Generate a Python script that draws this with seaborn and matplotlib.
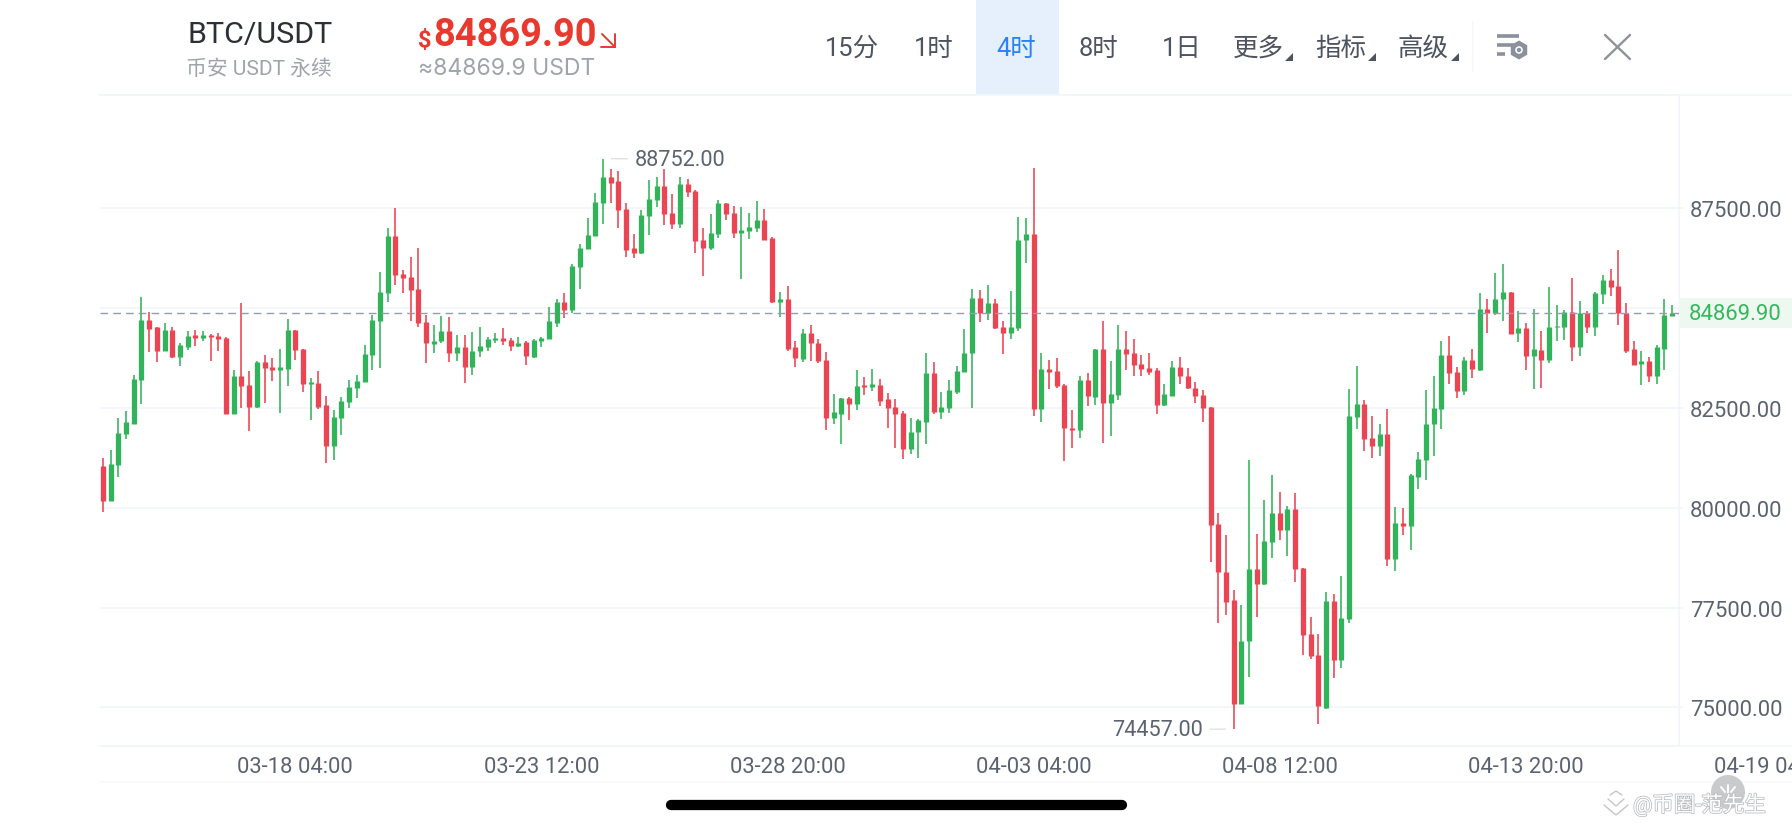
import pandas as pd
import seaborn as sns
import matplotlib.pyplot as plt
import matplotlib.patheffects as pe
from matplotlib.patches import Rectangle, Circle, Polygon, RegularPolygon

# 4h candles, oldest first
opens = [81050, 80170, 81070, 81850, 82110, 83200, 84710, 84520, 83930, 84450, 83780, 84030, 84320, 84250, 84330, 84310, 84260,
         82360, 83290, 83070, 82520, 83650, 83540, 83460, 83490, 84450, 83980, 83100, 83130, 82570, 81560, 82260, 82660, 83000,
         83140, 83830, 84690, 85380, 86820, 85860, 85780, 85480, 84650, 84110, 84170, 84430, 83880, 84020, 83520, 83920, 84030,
         84200, 84250, 84210, 84060, 84160, 83780, 84180, 84220, 84640, 85160, 84950, 86040, 86490, 86820, 87630, 88300, 88180,
         87480, 86500, 86380, 87310, 87720, 88070, 87380, 87110, 88120, 87930, 86700, 86510, 86860, 87650, 87380, 86890, 86930,
         87020, 87200, 86770, 85160, 85220, 84030, 83740, 84390, 84140, 83710, 82250, 82360, 82740, 82590, 83070, 83020, 83080,
         82720, 82520, 82370, 81470, 81890, 82160, 83380, 82410, 82500, 82900, 83400, 83870, 85260, 84890, 85130, 84530, 84370,
         84510, 86700, 86870, 82480, 83470, 83430, 83070, 82010, 81960, 83200, 82780, 83980, 82620, 82820, 83980, 83880, 83600,
         83500, 83440, 82570, 82810, 83520, 83310, 83000, 82820, 82520, 79590, 78400, 77680, 75070, 76660, 78460, 78080, 79130,
         79880, 79440, 79960, 78480, 76840, 76310, 74990, 77660, 76190, 77210, 82280, 82600, 81740, 81550, 81850, 78720, 79630,
         79550, 80780, 81200, 82090, 82470, 83820, 83390, 82930, 83700, 83460, 84990, 84870, 85230, 85400, 84370, 84500, 83810,
         83960, 83700, 84520, 84530, 84910, 84040, 84880, 84540, 85350, 85710, 85560, 84880, 83970, 83600, 83670, 83310, 83990,
         84800]
closes = [80170, 81100, 81870, 82140, 83230, 84710, 84490, 83930, 84450, 83780, 84070, 84310, 84250, 84330, 84280, 84230, 82350,
          83290, 83060, 82530, 83660, 83510, 83460, 83520, 84450, 83960, 83100, 83140, 82530, 81560, 82280, 82680, 83020, 83170,
          83860, 84700, 85400, 86820, 85840, 85760, 85450, 84640, 84120, 84190, 84430, 83880, 84020, 83520, 83940, 84060, 84230,
          84250, 84180, 84060, 84140, 83800, 84210, 84250, 84670, 85160, 84950, 86060, 86510, 86840, 87660, 88300, 88150, 87460,
          86470, 86390, 87340, 87730, 88060, 87370, 87100, 88120, 87910, 86690, 86510, 86880, 87650, 87350, 86890, 86950, 87040,
          87200, 86720, 85150, 85220, 83980, 83750, 84390, 84120, 83680, 82250, 82390, 82740, 82600, 83060, 83020, 83090, 82680,
          82510, 82340, 81470, 81910, 82200, 83380, 82400, 82530, 82940, 83430, 83890, 85260, 84890, 85130, 84500, 84380, 84540,
          86720, 86870, 82480, 83470, 83410, 83040, 81990, 81960, 83200, 82790, 83980, 82620, 82840, 83980, 83850, 83570, 83480,
          83410, 82570, 82840, 83520, 83290, 82990, 82810, 82490, 79570, 78390, 77650, 75080, 76670, 78460, 78080, 79160, 79880,
          79440, 79960, 78460, 76820, 76280, 75040, 77660, 76190, 77250, 82300, 82600, 81720, 81550, 81850, 78720, 79630, 79550,
          80820, 81230, 82110, 82500, 83820, 83370, 82930, 83700, 83470, 84990, 84880, 85240, 85400, 84360, 84500, 83810, 83970,
          83710, 84540, 84560, 84910, 84040, 84890, 84540, 85370, 85710, 85540, 84870, 83930, 83590, 83670, 83310, 84020, 84830,
          84869.9]
highs = [81250, 81450, 82250, 82420, 83330, 85270, 84900, 84520, 84620, 84520, 84140, 84440, 84450, 84440, 84350, 84380, 84290,
         83440, 85140, 83420, 83690, 83830, 83750, 83990, 84720, 84460, 83980, 83240, 83420, 82790, 82440, 82770, 83200, 83330,
         84080, 84840, 85910, 87000, 87500, 85970, 86280, 86500, 84840, 84580, 84810, 84770, 84320, 84340, 84410, 84540, 84280,
         84390, 84510, 84260, 84290, 84170, 84240, 84290, 85030, 85230, 85380, 86110, 86620, 87270, 87900, 88752, 88500, 88440,
         87650, 86850, 87450, 88220, 88290, 88500, 87860, 88280, 88230, 87970, 87020, 87360, 87720, 87650, 87550, 87530, 87380,
         87700, 87480, 86790, 85400, 85570, 84190, 84490, 84590, 84220, 83910, 82840, 82740, 82770, 83450, 83280, 83490, 83230,
         82880, 82720, 82420, 82260, 82230, 83890, 83660, 82890, 83210, 83560, 84470, 85470, 85460, 85590, 85220, 84680, 85420,
         87290, 87260, 88510, 83890, 83710, 83760, 83110, 82460, 83300, 83380, 83980, 84690, 83680, 84580, 84420, 84240, 83830,
         83870, 83510, 83110, 83670, 83790, 83500, 83140, 82940, 82530, 79870, 79310, 77950, 77560, 81200, 79350, 80190, 80830,
         80390, 80050, 80360, 78490, 77260, 76840, 77900, 77840, 78280, 82970, 83560, 82700, 82310, 82090, 82480, 80020, 79990,
         80850, 81390, 82940, 83300, 84170, 84300, 83540, 83780, 83990, 85390, 85230, 85880, 86100, 85400, 84920, 84640, 84990,
         84430, 85540, 85070, 84950, 85760, 85170, 84930, 85400, 85840, 85980, 86460, 85120, 84190, 83920, 83790, 84090, 85230,
         85080]
lows = [79900, 80170, 80760, 81720, 82110, 82590, 83910, 83660, 83930, 83760, 83560, 83960, 84060, 84180, 83680, 83920, 82340,
        82350, 82510, 81930, 82490, 82630, 83180, 82380, 83060, 83700, 82910, 82210, 82470, 81110, 81200, 81830, 82510, 82760,
        83140, 83460, 83500, 85160, 85590, 85390, 84680, 84520, 83620, 83880, 84140, 83660, 83680, 83120, 83330, 83780, 83930,
        84120, 84080, 83930, 84030, 83580, 83760, 84030, 84220, 84530, 84750, 84870, 85490, 86490, 86810, 87100, 87630, 87010,
        86280, 86260, 86370, 86840, 87530, 87080, 86990, 87010, 87780, 86390, 85820, 86470, 86770, 87220, 86750, 85730, 86740,
        86900, 86700, 85120, 84770, 83920, 83530, 83660, 83680, 83620, 81960, 82110, 81610, 82210, 82450, 82820, 82930, 82540,
        82010, 81500, 81230, 81350, 81250, 81610, 82350, 82220, 82380, 82840, 83400, 82500, 84660, 84710, 84490, 83850, 84220,
        84430, 86140, 82300, 82140, 82970, 83010, 81180, 81510, 81760, 82560, 82580, 81630, 81800, 82700, 83450, 83310, 83300,
        83320, 82340, 82560, 82800, 83110, 82980, 82620, 82160, 78640, 77120, 77320, 74457, 75070, 75770, 77270, 78060, 78730,
        79180, 78780, 78140, 76320, 76200, 74590, 74960, 75730, 75980, 77100, 81980, 81430, 81250, 81300, 78550, 78420, 79320,
        78940, 80460, 80700, 81300, 81970, 83110, 82750, 82820, 83260, 83430, 84390, 84830, 84690, 84360, 84160, 83450, 82980,
        83000, 83640, 84170, 84200, 83670, 83810, 84390, 84310, 85110, 85310, 84570, 83890, 83580, 83070, 83160, 83100, 83450,
        84800]

grid_prices = [75000, 77500, 80000, 82500, 85000, 87500]
grid_labels = ['75000.00', '77500.00', '80000.00', '82500.00', '', '87500.00']
time_ticks = [25, 57, 89, 121, 153, 185, 217]
time_labels = ['03-18 04:00', '03-23 12:00', '03-28 20:00', '04-03 04:00', '04-08 12:00', '04-13 20:00', '04-19 04:00']
last_price = 84869.90
peak_price = 88752.00
trough_price = 74457.00
periods = ['15分', '1时', '4时', '8时', '1日', '更多', '指标', '高级']

GREEN = '#31b35a'
RED = '#eb4452'
TEXT = '#5c6370'
GRID = '#f1f5fb'

sns.set_theme(style='white')
plt.rcParams['font.family'] = ['Roboto', 'Noto Sans CJK SC', 'DejaVu Sans']

df = pd.DataFrame({'open': opens, 'close': closes, 'high': highs, 'low': lows})
df['candle'] = range(len(df))
df['side'] = ['up' if c >= o else 'down' for o, c in zip(df['open'], df['close'])]
wicks = df.melt(['candle', 'side'], ['low', 'high'], value_name='price')
bodies = df.melt(['candle', 'side'], ['open', 'close'], value_name='price')

W, H = 1792, 828
fig = plt.figure(figsize=(W / 100, H / 100), dpi=100, facecolor='white')
ax = fig.add_axes([100 / W, 1 - 747 / H, 1579 / W, 651 / H])
pal = {'up': GREEN, 'down': RED}

sns.lineplot(data=wicks, x='candle', y='price', hue='side', units='candle', estimator=None, sort=False,
             palette=pal, linewidth=1.15, legend=False, solid_capstyle='butt', ax=ax, zorder=3)
sns.lineplot(data=bodies, x='candle', y='price', hue='side', units='candle', estimator=None, sort=False,
             palette=pal, linewidth=3.8, legend=False, solid_capstyle='butt', ax=ax, zorder=4)

ax.set_xlim(-0.39, 204.9)
ax.set_ylim(74030, 90344)
ax.set_xlabel('')
ax.set_ylabel('')
ax.set_xticks([])
ax.yaxis.tick_right()
ax.set_yticks(grid_prices)
ax.set_yticklabels(grid_labels, fontsize=15.8, color=TEXT)
ax.tick_params(axis='y', length=3, width=1.2, color=GRID, pad=5)
ax.grid(axis='y', color=GRID, linewidth=1.2)
ax.set_axisbelow(True)
ax.spines['left'].set_visible(False)
for side in ['top', 'right', 'bottom']:
    ax.spines[side].set_color(GRID)
    ax.spines[side].set_linewidth(1.2)

ax.axhline(last_price, color='#949dab', linewidth=1.0, dashes=(5.5, 3.7), zorder=5)

# time labels, the last one runs off the right edge like in the app
for pos, label in zip(time_ticks, time_labels):
    ax.annotate(label, xy=(pos, 0), xycoords=('data', 'axes fraction'), xytext=(0, -21), textcoords='offset pixels',
                ha='center', va='center', fontsize=15.8, color=TEXT, annotation_clip=False)

# extremes
ax.annotate(f'{peak_price:.2f}', xy=(65, peak_price), xytext=(32, -1), textcoords='offset pixels', ha='left',
            va='center', fontsize=15.6, color=TEXT,
            arrowprops=dict(arrowstyle='-', color='#dfe2e6', lw=1, shrinkA=3, shrinkB=6))
ax.annotate(f'{trough_price:.2f}', xy=(147, trough_price), xytext=(-31, -1), textcoords='offset pixels', ha='right',
            va='center', fontsize=15.6, color=TEXT,
            arrowprops=dict(arrowstyle='-', color='#dfe2e6', lw=1, shrinkA=3, shrinkB=6))

# app chrome on a pixel overlay
ui = fig.add_axes([0, 0, 1, 1], zorder=-1)
ui.set_xlim(0, W)
ui.set_ylim(H, 0)
ui.axis('off')
top = fig.add_axes([0, 0, 1, 1], zorder=5)
top.set_xlim(0, W)
top.set_ylim(H, 0)
top.axis('off')
top.patch.set_alpha(0)

ui.add_patch(Rectangle((976, 0), 83, 96, color='#e6f0fc', lw=0))
ui.plot([100, W], [96, 96], color=GRID, lw=1.2)
ui.plot([100, W], [747, 747], color=GRID, lw=1.2)
ui.plot([100, W], [783, 783], color='#f6f8fb', lw=1.2)
ui.plot([1472, 1472], [22, 72], color='#f3f5f8', lw=1)

ui.text(187, 35, 'BTC/USDT', fontsize=21.9, color='#2b2f36', ha='left', va='center')
ui.text(186, 69, '币安 USDT 永续', fontsize=15, color='#9fa3ab', ha='left', va='center')
ui.text(418, 40, '$', fontsize=17, color='#e9392f', ha='left', va='center', fontweight='bold')
ui.text(433, 35, '84869.90', fontsize=27.4, color='#e9392f', ha='left', va='center', fontweight='bold')
ui.text(418, 69, '≈84869.9 USDT', fontsize=16.5, color='#9fa3ab', ha='left', va='center', family=['Inter', 'DejaVu Sans'])
ui.plot([602, 615], [35, 48], color='#e9392f', lw=1.4)
ui.plot([615, 615, 601], [35, 48, 48], color='#e9392f', lw=1.4)

period_x = [852, 934, 1016, 1098, 1182, 1258, 1341, 1423]
for px, label in zip(period_x, periods):
    col = '#2a82f5' if label == '4时' else '#4d5460'
    ui.text(px, 49, label, fontsize=18.4, color=col, ha='center', va='center')
for tx in [1289, 1372, 1455]:
    ui.add_patch(Polygon([[tx - 4, 62], [tx + 4, 62], [tx + 4, 54]], color='#4d5460', lw=0))

# settings icon
ui.plot([1497, 1519], [37, 37], color='#8a919c', lw=2.6, solid_capstyle='butt')
ui.plot([1497, 1514], [46, 46], color='#8a919c', lw=2.6, solid_capstyle='butt')
ui.plot([1497, 1505], [55, 55], color='#8a919c', lw=2.6, solid_capstyle='butt')
ui.add_patch(RegularPolygon((1519, 51), 6, radius=9.5, fc='#8a919c', ec='none'))
ui.add_patch(Circle((1519, 51), 3.8, fc='white', ec='none'))
ui.add_patch(Circle((1519, 51), 2.2, fc='#8a919c', ec='none'))
# close icon
ui.plot([1605, 1630], [36, 60], color='#8f9399', lw=1.7)
ui.plot([1630, 1605], [36, 60], color='#8f9399', lw=1.7)

# last price tag
top.add_patch(Rectangle((1680, 299), 112, 30, color='#edf8f0', lw=0))
top.text(1689, 315, f'{last_price:.2f}', fontsize=15.8, color='#36b75c', ha='left', va='center')

# home bar and watermark
top.plot([671, 1122], [806, 806], color='black', lw=7.4, solid_capstyle='round')
top.add_patch(Circle((1728, 793), 17, fc='#c9cacc', ec='none'))
wm = top.text(1633, 806, '@币圈-范先生', fontsize=15.5, color='white', ha='left', va='center')
wm.set_path_effects([pe.withStroke(linewidth=1.1, foreground='#b9bbbe')])
top.plot([1728, 1728], [786, 794], color='white', lw=1.4)
top.plot([1721, 1725], [788, 793], color='white', lw=1.4)
top.plot([1735, 1731], [788, 793], color='white', lw=1.4)
top.plot([1604, 1616, 1628], [806, 816, 806], color='#c4c6c9', lw=1)
top.plot([1608, 1616, 1624], [800, 807, 800], color='#c4c6c9', lw=1)
top.plot([1610, 1616, 1622], [796, 792, 796], color='#c4c6c9', lw=1)

fig.savefig('out.png', dpi=100, facecolor='white')
